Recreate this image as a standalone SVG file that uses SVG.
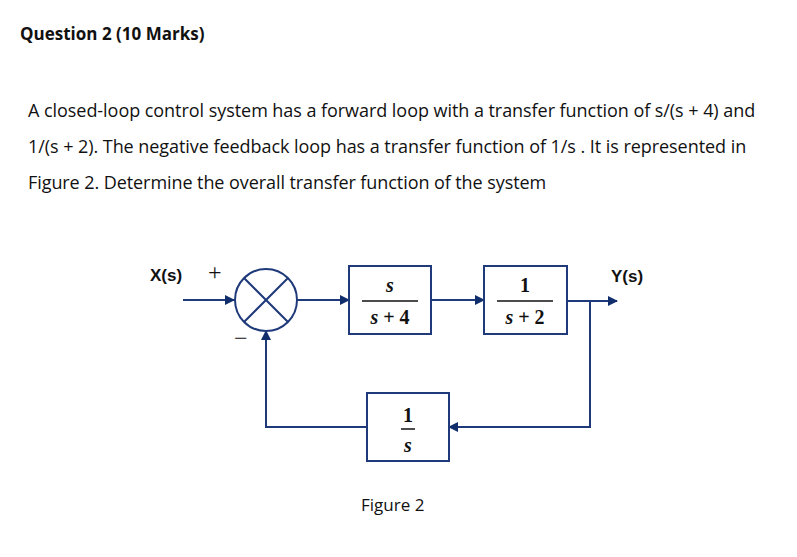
<svg xmlns="http://www.w3.org/2000/svg" width="797" height="557" viewBox="0 0 797 557">
<defs>
<marker id="ah" markerWidth="10" markerHeight="10" refX="9" refY="5" orient="auto" markerUnits="userSpaceOnUse"><path d="M0,0 L10,5 L0,10 Z" fill="#0f2e6b"/></marker>
<style>
.t{font-family:"Open Sans","Liberation Sans",sans-serif;font-size:17px;fill:#111}
.b{font-size:18px;letter-spacing:-0.2px}
.m{font-family:"Liberation Serif",serif;font-size:20px;font-weight:bold;fill:#111}
.mi{font-family:"Liberation Serif",serif;font-size:20px;font-weight:bold;font-style:italic;fill:#111}
.pm{font-family:"Liberation Serif",serif;font-size:24px;fill:#111}
.box{fill:#fff;stroke:#1f3a7a;stroke-width:2}
.ln{fill:none;stroke:#1f3a7a;stroke-width:2}
.l{font-family:"Liberation Sans",sans-serif;font-size:17px;font-weight:bold;fill:#111}
</style>
</defs>
<rect width="797" height="557" fill="#fff"/>
<text class="t" x="20" y="40" font-weight="bold">Question 2 (10 Marks)</text>
<text class="t b" x="28" y="117" textLength="727">A closed-loop control system has a forward loop with a transfer function of s/(s + 4) and</text>
<text class="t b" x="28" y="153" textLength="718">1/(s + 2). The  negative feedback loop has a transfer function of 1/s . It is represented in</text>
<text class="t b" x="28" y="189" textLength="518">Figure 2. Determine the overall transfer function of the system</text>
<g id="connectors">
<path class="ln" d="M183,300 H234" marker-end="url(#ah)"/>
<path class="ln" d="M297,300 H349" marker-end="url(#ah)"/>
<path class="ln" d="M431,300 H484" marker-end="url(#ah)"/>
<path class="ln" d="M567,301 H617" marker-end="url(#ah)"/>
<path class="ln" d="M590,301 V427 H449" marker-end="url(#ah)"/>
<path class="ln" d="M367,427 H266 V331" marker-end="url(#ah)"/>
</g>
<g id="sum">
<circle cx="266" cy="300" r="31" class="box"/>
<path class="ln" d="M244,278 L288,322 M288,278 L244,322"/>
<text class="pm" x="208" y="280">+</text>
<text class="pm" x="234" y="346">−</text>
</g>
<text class="l" x="150" y="281">X(s)</text>
<text class="l" x="611" y="282">Y(s)</text>
<g id="g1">
<rect x="349" y="266" width="82" height="68" class="box"/>
<text class="mi" x="390" y="292" text-anchor="middle">s</text>
<line x1="362" y1="301" x2="418" y2="301" stroke="#111" stroke-width="1.5"/>
<text class="m" x="390" y="324" text-anchor="middle"><tspan font-style="italic">s</tspan> + 4</text>
</g>
<g id="g2">
<rect x="484" y="266" width="83" height="68" class="box"/>
<text class="m" x="525" y="292" text-anchor="middle">1</text>
<line x1="497" y1="301" x2="553" y2="301" stroke="#111" stroke-width="1.5"/>
<text class="m" x="525" y="324" text-anchor="middle"><tspan font-style="italic">s</tspan> + 2</text>
</g>
<g id="h">
<rect x="367" y="393" width="82" height="68" class="box"/>
<text class="m" x="408" y="422" text-anchor="middle">1</text>
<line x1="401" y1="429" x2="415" y2="429" stroke="#111" stroke-width="1.5"/>
<text class="mi" x="408" y="452" text-anchor="middle">s</text>
</g>
<text class="t" x="361" y="511">Figure 2</text>
</svg>
